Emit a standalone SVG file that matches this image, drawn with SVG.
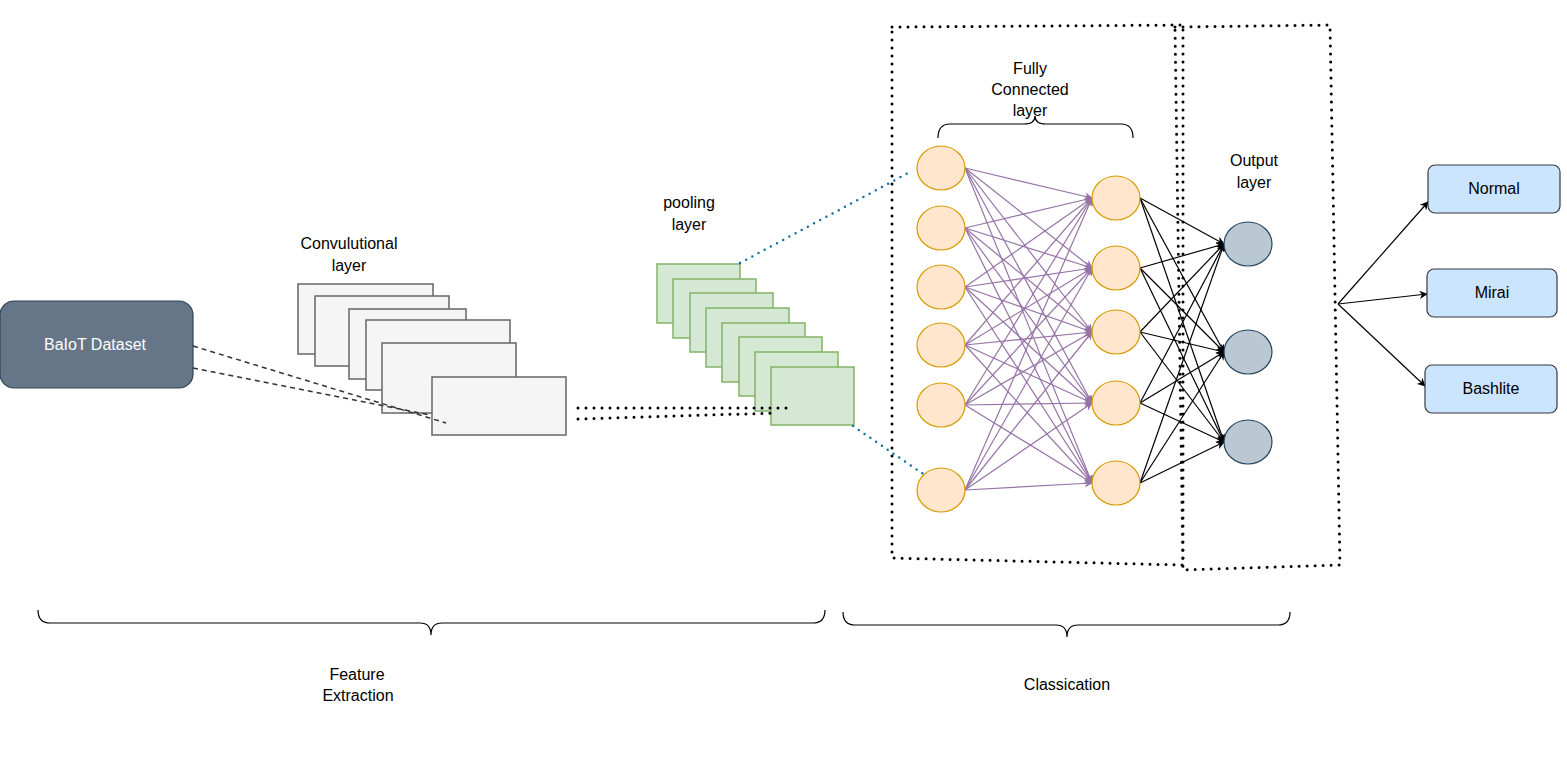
<svg xmlns="http://www.w3.org/2000/svg" width="1567" height="757" viewBox="0 0 1567 757">
<defs>
<marker id="ap" viewBox="0 0 10 10" refX="9" refY="5" markerWidth="7" markerHeight="7" orient="auto"><path d="M0,0L10,5L0,10L3,5z" fill="#9673a6"/></marker>
<marker id="ab" viewBox="0 0 10 10" refX="9" refY="5" markerWidth="7" markerHeight="7" orient="auto"><path d="M0,0L10,5L0,10L3,5z" fill="#000"/></marker>
</defs>
<style>
text{font-family:"Liberation Sans",Arial,sans-serif;font-size:16px;fill:#000;text-anchor:middle}
.conv{fill:#f5f5f5;stroke:#666;stroke-width:1.5}
.pool{fill:#d5e8d4;stroke:#82b366;stroke-width:1.5}
.fc{fill:#ffe6cc;stroke:#d79b00;stroke-width:1.2}
.out{fill:#bac8d3;stroke:#23445d;stroke-width:1.2}
.cls{fill:#cce5ff;stroke:#36393d;stroke-width:1.2}
.pl{stroke:#9673a6;stroke-width:1.2}
.bl{stroke:#000;stroke-width:1.2}
.brace{fill:none;stroke:#000;stroke-width:1.2}
.dot{fill:none;stroke:#000;stroke-width:3;stroke-dasharray:0 8;stroke-linecap:round}
</style>
<g id="dataset"><rect x="0" y="301" width="193" height="87" rx="14" fill="#647687" stroke="#314354" stroke-width="1.2"/><text x="95" y="350" style="fill:#fff">BaIoT Dataset</text></g>
<g id="conv">
<rect class="conv" x="298" y="284" width="135" height="70"/>
<rect class="conv" x="315" y="296" width="134" height="70"/>
<rect class="conv" x="349" y="309" width="117" height="70"/>
<rect class="conv" x="366" y="320" width="144" height="70"/>
<rect class="conv" x="382" y="343" width="134" height="70"/>
<rect class="conv" x="432" y="377" width="134" height="58"/>
<text x="349" y="249">Convulutional</text><text x="349" y="271">layer</text>
</g>
<g id="pool">
<rect class="pool" x="657" y="264" width="83" height="59"/>
<rect class="pool" x="673" y="279" width="83" height="59"/>
<rect class="pool" x="690" y="293" width="83" height="59"/>
<rect class="pool" x="706" y="308" width="83" height="59"/>
<rect class="pool" x="722" y="323" width="83" height="59"/>
<rect class="pool" x="739" y="337" width="83" height="59"/>
<rect class="pool" x="755" y="352" width="83" height="59"/>
<rect class="pool" x="771" y="367" width="83" height="58"/>
<text x="689" y="208">pooling</text><text x="689" y="230">layer</text>
</g>
<g id="connectors">
<path d="M193,346L446,423M193,368L430,415" stroke="#333" stroke-width="1.5" stroke-dasharray="5 4" fill="none"/>
<path class="dot" d="M578,408L790,408M578,419L775,413"/>
<path d="M740,263L910,172M853,426L935,482" fill="none" stroke="#10739e" stroke-width="2.5" stroke-dasharray="0 7" stroke-linecap="round"/>
<g class="pl" marker-end="url(#ap)">
<line x1="965" y1="168" x2="1092" y2="198"/><line x1="965" y1="168" x2="1092" y2="268"/><line x1="965" y1="168" x2="1092" y2="332"/><line x1="965" y1="168" x2="1092" y2="403"/><line x1="965" y1="168" x2="1092" y2="483"/>
<line x1="965" y1="228" x2="1092" y2="198"/><line x1="965" y1="228" x2="1092" y2="268"/><line x1="965" y1="228" x2="1092" y2="332"/><line x1="965" y1="228" x2="1092" y2="403"/><line x1="965" y1="228" x2="1092" y2="483"/>
<line x1="965" y1="287" x2="1092" y2="198"/><line x1="965" y1="287" x2="1092" y2="268"/><line x1="965" y1="287" x2="1092" y2="332"/><line x1="965" y1="287" x2="1092" y2="403"/><line x1="965" y1="287" x2="1092" y2="483"/>
<line x1="965" y1="345" x2="1092" y2="198"/><line x1="965" y1="345" x2="1092" y2="268"/><line x1="965" y1="345" x2="1092" y2="332"/><line x1="965" y1="345" x2="1092" y2="403"/><line x1="965" y1="345" x2="1092" y2="483"/>
<line x1="965" y1="405" x2="1092" y2="198"/><line x1="965" y1="405" x2="1092" y2="268"/><line x1="965" y1="405" x2="1092" y2="332"/><line x1="965" y1="405" x2="1092" y2="403"/><line x1="965" y1="405" x2="1092" y2="483"/>
<line x1="965" y1="490" x2="1092" y2="198"/><line x1="965" y1="490" x2="1092" y2="268"/><line x1="965" y1="490" x2="1092" y2="332"/><line x1="965" y1="490" x2="1092" y2="403"/><line x1="965" y1="490" x2="1092" y2="483"/>
</g>
<g class="bl" marker-end="url(#ab)">
<line x1="1140" y1="198" x2="1224" y2="244"/><line x1="1140" y1="198" x2="1224" y2="352"/><line x1="1140" y1="198" x2="1224" y2="442"/>
<line x1="1140" y1="268" x2="1224" y2="244"/><line x1="1140" y1="268" x2="1224" y2="352"/><line x1="1140" y1="268" x2="1224" y2="442"/>
<line x1="1140" y1="332" x2="1224" y2="244"/><line x1="1140" y1="332" x2="1224" y2="352"/><line x1="1140" y1="332" x2="1224" y2="442"/>
<line x1="1140" y1="403" x2="1224" y2="244"/><line x1="1140" y1="403" x2="1224" y2="352"/><line x1="1140" y1="403" x2="1224" y2="442"/>
<line x1="1140" y1="483" x2="1224" y2="244"/><line x1="1140" y1="483" x2="1224" y2="352"/><line x1="1140" y1="483" x2="1224" y2="442"/>
<line x1="1338" y1="304" x2="1428" y2="202"/><line x1="1338" y1="304" x2="1427" y2="294"/><line x1="1338" y1="304" x2="1425" y2="386"/>
</g>
</g>
<g id="fc1"><ellipse class="fc" cx="941" cy="168" rx="24" ry="22"/><ellipse class="fc" cx="941" cy="228" rx="24" ry="22"/><ellipse class="fc" cx="941" cy="287" rx="24" ry="22"/><ellipse class="fc" cx="941" cy="345" rx="24" ry="22"/><ellipse class="fc" cx="941" cy="405" rx="24" ry="22"/><ellipse class="fc" cx="941" cy="490" rx="24" ry="22"/></g>
<g id="fc2"><ellipse class="fc" cx="1116" cy="198" rx="24" ry="22"/><ellipse class="fc" cx="1116" cy="268" rx="24" ry="22"/><ellipse class="fc" cx="1116" cy="332" rx="24" ry="22"/><ellipse class="fc" cx="1116" cy="403" rx="24" ry="22"/><ellipse class="fc" cx="1116" cy="483" rx="24" ry="22"/></g>
<g id="output"><ellipse class="out" cx="1248" cy="244" rx="24" ry="22"/><ellipse class="out" cx="1248" cy="352" rx="24" ry="22"/><ellipse class="out" cx="1248" cy="442" rx="24" ry="22"/><text x="1254" y="166">Output</text><text x="1254" y="188">layer</text></g>
<g id="boxes">
<path class="dot" d="M892,27L1183,25L1183,565L892,558Z"/>
<path class="dot" d="M1175,27L1330,25L1340,565L1183,570Z"/>
</g>
<g id="fclabel"><path class="brace" d="M938,138Q938,124 950,124L1024,124Q1035,124 1035,116Q1035,124 1046,124L1121,124Q1133,124 1133,138"/><text x="1030" y="74">Fully</text><text x="1030" y="95">Connected</text><text x="1030" y="116">layer</text></g>
<g id="normal"><rect class="cls" x="1428" y="165" width="132" height="48" rx="7"/><text x="1494" y="194">Normal</text></g>
<g id="mirai"><rect class="cls" x="1427" y="269" width="130" height="48" rx="7"/><text x="1492" y="298">Mirai</text></g>
<g id="bashlite"><rect class="cls" x="1425" y="365" width="132" height="48" rx="7"/><text x="1491" y="394">Bashlite</text></g>
<g id="feature"><path class="brace" d="M38,610Q38,623 50,623L420,623Q431,623 431,635Q431,623 442,623L813,623Q825,623 825,610"/><text x="357" y="680">Feature</text><text x="358" y="701">Extraction</text></g>
<g id="classification"><path class="brace" d="M843,612Q843,625 855,625L1056,625Q1067,625 1067,637Q1067,625 1078,625L1278,625Q1290,625 1290,612"/><text x="1067" y="690">Classication</text></g>
</svg>
